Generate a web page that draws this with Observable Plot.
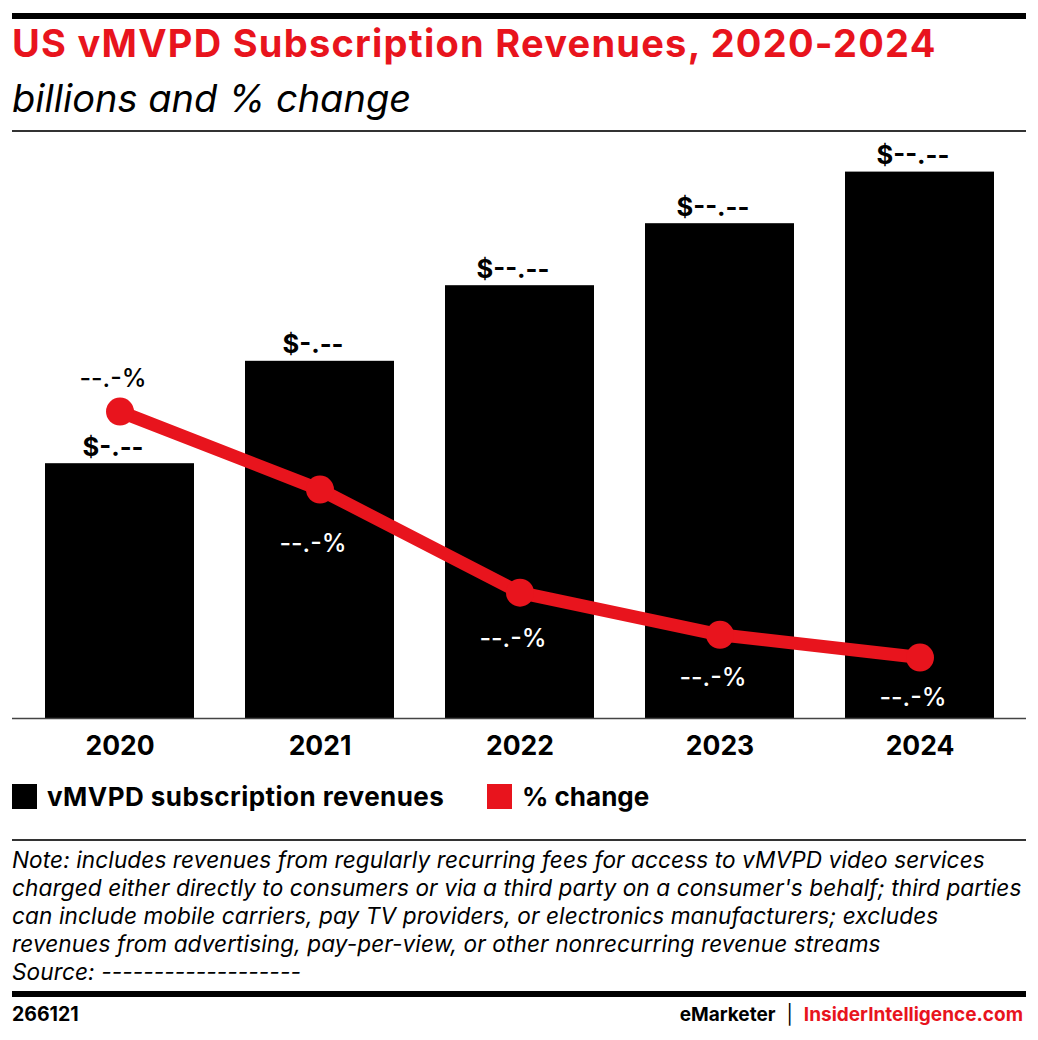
<!DOCTYPE html>
<html>
<head>
<meta charset="utf-8">
<script src="https://cdn.jsdelivr.net/npm/d3@7"></script>
<script src="https://cdn.jsdelivr.net/npm/@observablehq/plot@0.6"></script>
<style>
  body { margin: 0; background: #fff; }
  #page { position: relative; width: 1038px; height: 1040px; overflow: hidden; font-family: Inter, "Noto Sans", sans-serif; color: #000; }
  .rule { position: absolute; left: 12px; width: 1014px; background: #000; }
  .abs { position: absolute; white-space: nowrap; line-height: 1; }
  #title { left: 12px; top: 24px; font-size: 38px; font-weight: 700; color: #E8141D; letter-spacing: 1.25px; }
  #subtitle { left: 12px; top: 79px; font-size: 38px; font-style: italic; }
  #chart { position: absolute; left: 0; top: 140px; }
  .legend { position: absolute; top: 784px; height: 25px; display: flex; align-items: center; font-size: 26px; font-weight: 700; white-space: nowrap; }
  .swatch { width: 25px; height: 25px; margin-right: 10px; flex: none; }
  #note { position: absolute; left: 12px; top: 846px; width: 1026px; font-size: 22.6px; font-style: italic; line-height: 28px; white-space: nowrap; letter-spacing: 0.1px; }
  #footer-left { left: 12px; top: 1005px; font-size: 19.5px; font-weight: 700; }
  #footer-right { right: 15px; top: 1005px; font-size: 19px; font-weight: 700; }
  #footer-right .sep { margin: 0 11px; font-weight: 400; }
</style>
</head>
<body>
<div id="page">
  <div class="rule" style="top:13px;height:6px"></div>
  <div id="title" class="abs">US vMVPD Subscription Revenues, 2020-2024</div>
  <div id="subtitle" class="abs">billions and % change</div>
  <div class="rule" style="top:130px;height:1.5px;background:#333"></div>
  <div id="chart"></div>
  <div class="legend" style="left:12px;letter-spacing:0.45px"><div class="swatch" style="background:#000"></div>vMVPD subscription revenues</div>
  <div class="legend" style="left:487px"><div class="swatch" style="background:#E8141D"></div>% change</div>
  <div class="rule" style="top:839px;height:1.5px;background:#333"></div>
  <div id="note">Note: includes revenues from regularly recurring fees for access to vMVPD video services<br>charged either directly to consumers or via a third party on a consumer's behalf; third parties<br>can include mobile carriers, pay TV providers, or electronics manufacturers; excludes<br>revenues from advertising, pay-per-view, or other nonrecurring revenue streams<br>Source: -------------------</div>
  <div class="rule" style="top:991px;height:6px"></div>
  <div id="footer-left" class="abs">266121</div>
  <div id="footer-right" class="abs">eMarketer<span class="sep">|</span><span style="color:#E8141D">InsiderIntelligence.com</span></div>
</div>
<script>
// Years on the x axis
const years = ["2020", "2021", "2022", "2023", "2024"];
// vMVPD subscription revenues, billions of dollars
const revenues = [6.37, 8.93, 10.82, 12.37, 13.66];
// Year-over-year % change
const pctChange = [53.9, 40.2, 22.1, 14.7, 10.7];
// Tops of the two value axes (revenue in billions, change in %)
const revenueMax = 13.95;
const pctMax = 98;

const red = "#E8141D";
const fontFamily = "Inter, 'Noto Sans', sans-serif";

const width = 1038, height = 640, marginTop = 20, marginBottom = 62;
const plotHeight = height - marginTop - marginBottom;

const rows = years.map((year, i) => ({ year, revenue: revenues[i], pct: pctChange[i] }));

// % change is plotted on its own axis, expressed in revenue-axis units
const pctToY = d => d.pct * (revenueMax / pctMax);

// Published figures are masked: every digit shows as a dash
const maskDigits = s => s.replace(/\d/g, "-");
const revenueLabel = d => maskDigits("$" + d.revenue.toFixed(2));
const pctLabel = d => maskDigits(d.pct.toFixed(1)) + "%";

const pctStyle = { x: "year", y: pctToY, text: pctLabel, dx: -7, fontSize: 25, fontWeight: 500 };

// Labels under the line sit lower where the following segment drops steeply,
// so the text stays clear of the stroke
const pctLabelsBelow = rows.slice(1).map((d, j) => {
  const next = rows[j + 2];
  const dropPx = next ? (d.pct - next.pct) * plotHeight / pctMax : 0;
  return Plot.text([d], { ...pctStyle, dy: 40 + 0.14 * dropPx, fill: "#fff" });
});

const chart = Plot.plot({
  width,
  height,
  marginTop,
  marginBottom,
  marginLeft: 18,
  marginRight: 17,
  style: { fontFamily, background: "transparent", overflow: "visible" },
  x: { domain: years, paddingInner: 0.257, paddingOuter: 0.128, label: null },
  y: { domain: [0, revenueMax], axis: null },
  marks: [
    Plot.barY(rows, { x: "year", y: "revenue", fill: "#000" }),
    Plot.ruleY([0], { stroke: "#444", strokeWidth: 1.5, insetLeft: -6, insetRight: -5 }),
    Plot.text(rows, { x: "year", y: "revenue", text: revenueLabel, dx: -7, dy: -16, fontSize: 25.5, fontWeight: 700, fill: "#000" }),
    Plot.line(rows, { x: "year", y: pctToY, stroke: red, strokeWidth: 13, strokeLinejoin: "round" }),
    Plot.dot(rows, { x: "year", y: pctToY, r: 14, fill: red }),
    Plot.text(rows.slice(0, 1), { ...pctStyle, dy: -33, fill: "#000" }),
    ...pctLabelsBelow,
    Plot.axisX({ tickSize: 0, tickPadding: 18, fontSize: 26.5, fontWeight: 700, label: null })
  ]
});

document.getElementById("chart").appendChild(chart);
</script>
</body>
</html>
